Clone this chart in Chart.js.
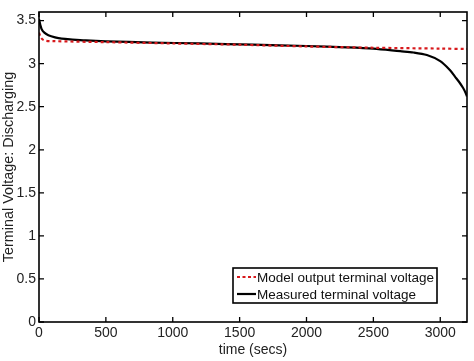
<!DOCTYPE html>
<html>
<head>
<meta charset="utf-8">
<script src="https://cdn.jsdelivr.net/npm/chart.js@4.4.1/dist/chart.umd.min.js"></script>
<style>
  html, body { margin:0; padding:0; background:#fff; }
  #wrap { width:474px; height:361px; }
</style>
</head>
<body>
<div id="wrap"><canvas id="c" width="474" height="361"></canvas></div>
<script>
// values (time in secs, voltage in V)
const measuredT = [0, 10, 20, 40, 70, 120, 170, 250, 350, 500, 840, 1200, 1600, 2000, 2300, 2500, 2700, 2800, 2900, 3000, 3070, 3110, 3140, 3170, 3190, 3200];
const measuredV = [3.52, 3.45, 3.40, 3.36, 3.33, 3.305, 3.29, 3.28, 3.27, 3.26, 3.245, 3.235, 3.22, 3.205, 3.19, 3.175, 3.145, 3.13, 3.10, 3.03, 2.93, 2.85, 2.79, 2.72, 2.66, 2.62];
const modelT = [0, 15, 40, 100, 500, 1000, 1500, 2000, 2500, 3000, 3200];
const modelV = [3.36, 3.30, 3.27, 3.262, 3.25, 3.235, 3.22, 3.20, 3.185, 3.175, 3.17];
const xTicks = [0, 500, 1000, 1500, 2000, 2500, 3000];
const yTicks = [0, 0.5, 1, 1.5, 2, 2.5, 3, 3.5];
const legendLabels = ['Model output terminal voltage', 'Measured terminal voltage'];

const RED = '#d7191c';
const FONT = 'Liberation Sans, Arial, sans-serif';

const pts = (t, v) => t.map((x, i) => ({ x, y: v[i] }));

// matlab-like frame: box, inward ticks on all sides, legend box
const framePlugin = {
  id: 'frame',
  afterDraw(chart) {
    const { ctx, chartArea: a, scales } = chart;
    ctx.save();
    ctx.strokeStyle = '#000';
    ctx.lineWidth = 1.6;
    ctx.strokeRect(a.left, a.top, a.right - a.left, a.bottom - a.top);
    ctx.lineWidth = 1.3;
    const L = 5;
    ctx.beginPath();
    xTicks.forEach(v => {
      const p = scales.x.getPixelForValue(v);
      ctx.moveTo(p, a.bottom); ctx.lineTo(p, a.bottom - L);
      ctx.moveTo(p, a.top); ctx.lineTo(p, a.top + L);
    });
    yTicks.forEach(v => {
      const p = scales.y.getPixelForValue(v);
      ctx.moveTo(a.left, p); ctx.lineTo(a.left + L, p);
      ctx.moveTo(a.right, p); ctx.lineTo(a.right - L, p);
    });
    ctx.stroke();

    // legend
    const bx = 233, by = 268, bw = 204, bh = 35;
    ctx.fillStyle = '#fff';
    ctx.fillRect(bx, by, bw, bh);
    ctx.lineWidth = 1.6;
    ctx.strokeRect(bx, by, bw, bh);
    const rows = [by + 9, by + 26];
    ctx.lineWidth = 2;
    ctx.strokeStyle = RED;
    ctx.setLineDash([3, 2.5]);
    ctx.beginPath(); ctx.moveTo(237, rows[0]); ctx.lineTo(256, rows[0]); ctx.stroke();
    ctx.setLineDash([]);
    ctx.strokeStyle = '#000';
    ctx.lineWidth = 2.2;
    ctx.beginPath(); ctx.moveTo(237, rows[1]); ctx.lineTo(256, rows[1]); ctx.stroke();
    ctx.fillStyle = '#111';
    ctx.font = '13.5px ' + FONT;
    ctx.textBaseline = 'middle';
    ctx.textAlign = 'left';
    legendLabels.forEach((s, i) => ctx.fillText(s, 257, rows[i] + 1));
    ctx.restore();
  }
};

new Chart(document.getElementById('c'), {
  type: 'line',
  data: {
    datasets: [
      { label: legendLabels[0], data: pts(modelT, modelV), borderColor: RED, borderWidth: 2.2, borderDash: [3, 3], pointRadius: 0, tension: 0.3, order: 0 },
      { label: legendLabels[1], data: pts(measuredT, measuredV), borderColor: '#000', borderWidth: 2.2, pointRadius: 0, tension: 0.3, order: 1 }
    ]
  },
  options: {
    responsive: false,
    animation: false,
    layout: { padding: { left: 0, top: 12, right: 7, bottom: 0 } },
    plugins: { legend: { display: false }, tooltip: { enabled: false } },
    scales: {
      x: {
        type: 'linear', min: 0, max: 3200,
        afterBuildTicks: s => { s.ticks = xTicks.map(v => ({ value: v })); },
        afterFit: s => { s.height = 39; },
        grid: { display: false, drawTicks: false },
        border: { display: false },
        ticks: { padding: 3, color: '#222', font: { family: FONT, size: 14 }, maxRotation: 0, callback: v => String(v) },
        title: { display: true, text: 'time (secs)', color: '#222', padding: { top: 0, bottom: 2 }, font: { family: FONT, size: 14 } }
      },
      y: {
        type: 'linear', min: 0, max: 3.6,
        afterBuildTicks: s => { s.ticks = yTicks.map(v => ({ value: v })); },
        afterFit: s => { s.width = 39; },
        grid: { display: false, drawTicks: false },
        border: { display: false },
        ticks: { padding: 3, color: '#222', font: { family: FONT, size: 14 }, callback: v => String(v) },
        title: { display: true, text: 'Terminal Voltage: Discharging', color: '#222', padding: { top: 0, bottom: 0 }, font: { family: FONT, size: 14.4 } }
      }
    }
  },
  plugins: [framePlugin]
});
</script>
</body>
</html>
